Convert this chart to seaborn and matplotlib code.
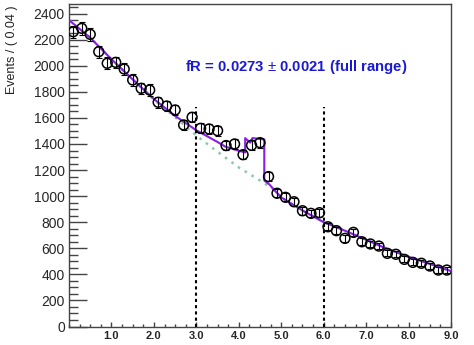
import numpy as np
import pandas as pd
import matplotlib
matplotlib.use("Agg")
import matplotlib.pyplot as plt
from matplotlib.ticker import FixedLocator, MultipleLocator, FormatStrFormatter
import seaborn as sns

# ---- data ----
bin_centers = [0.1, 0.3, 0.5, 0.7, 0.9, 1.1, 1.3, 1.5, 1.7, 1.9,
               2.1, 2.3, 2.5, 2.7, 2.9, 3.1, 3.3, 3.5, 3.7, 3.9,
               4.1, 4.3, 4.5, 4.7, 4.9, 5.1, 5.3, 5.5, 5.7, 5.9,
               6.1, 6.3, 6.5, 6.7, 6.9, 7.1, 7.3, 7.5, 7.7, 7.9,
               8.1, 8.3, 8.5, 8.7, 8.9]
events = [2261, 2287, 2241, 2108, 2019, 2026, 1975, 1891, 1827, 1814,
          1720, 1691, 1661, 1546, 1605, 1520, 1515, 1502, 1388, 1400,
          1318, 1390, 1410, 1150, 1022, 991, 957, 888, 868, 873,
          765, 735, 676, 722, 650, 633, 617, 561, 554, 515,
          492, 485, 464, 433, 433]

total_x = [0.0, 0.5, 1.0, 1.5, 2.0, 2.5, 3.0, 3.5, 3.68, 4.0, 4.15, 4.15,
           4.27, 4.32, 4.60, 4.60, 4.72, 4.82, 5.0, 5.5, 6.0, 6.5, 7.0,
           7.5, 8.0, 8.5, 9.0]
total_y = [2350, 2215, 2050, 1895, 1745, 1615, 1505, 1415, 1380, 1348, 1335, 1445,
           1410, 1445, 1435, 1120, 1090, 1052, 990, 890, 800, 735, 665,
           595, 535, 480, 425]

bkg_x = [0.0, 0.5, 1.0, 1.5, 2.0, 2.5, 3.0, 3.5, 4.0, 4.5, 4.82, 5.0, 5.5,
         6.0, 6.5, 7.0, 7.5, 8.0, 8.5, 9.0]
bkg_y = [2350, 2215, 2050, 1895, 1740, 1605, 1465, 1340, 1220, 1120, 1052, 990, 890,
         800, 735, 665, 595, 535, 480, 425]

cut_lines = [3.0, 6.0]
cut_top = 1680
x_ticks = [1.0, 2.0, 3.0, 4.0, 5.0, 6.0, 7.0, 8.0, 9.0]
y_ticks = [0, 200, 400, 600, 800, 1000, 1200, 1400, 1600, 1800, 2000, 2200, 2400]
label_text = "fR = 0.0273 $\\pm$ 0.0021 (full range)"

# ---- plot ----
sns.set_style("white")
plt.rcParams['font.family'] = ['Liberation Sans', 'DejaVu Sans']
plt.rcParams['mathtext.fontset'] = 'custom'
plt.rcParams['mathtext.rm'] = 'Liberation Sans'

fig = plt.figure(figsize=(4.74, 3.45), dpi=100)
ax = fig.add_axes([0.1456, 0.0536, 0.806, 0.9334])

df_pts = pd.DataFrame({"x": bin_centers, "y": events})
df_pts["err"] = np.sqrt(df_pts["y"])

df_bkg = pd.DataFrame({"x": bkg_x, "y": bkg_y})
df_tot = pd.DataFrame({"x": total_x, "y": total_y})

sns.lineplot(data=df_bkg, x="x", y="y", sort=False, estimator=None, ax=ax,
             color="#86c9a9", linewidth=1.8, linestyle=(0, (1, 2.2)), zorder=2)
sns.lineplot(data=df_tot, x="x", y="y", sort=False, estimator=None, ax=ax,
             color="#8a1ee6", linewidth=1.5, zorder=3)

ax.errorbar(df_pts["x"], df_pts["y"], yerr=df_pts["err"], fmt="none",
            ecolor="black", elinewidth=0.8, capsize=2.2, capthick=0.8, zorder=4)
sns.scatterplot(data=df_pts, x="x", y="y", ax=ax, marker="o", s=50,
                facecolor="none", edgecolor="black", linewidth=1.1, zorder=5)

for xc in cut_lines:
    ax.plot([xc, xc], [0, cut_top], color="black", linewidth=1.5,
            linestyle=(0, (1.5, 1.5)), zorder=6)

ax.text(2.74, 1993, label_text, color="#1a1ad6", fontsize=10.7,
        fontweight="bold", va="center", ha="left")

ax.set_xlim(0, 9.0)
ax.set_ylim(0, 2470)
ax.set_xlabel("")
ax.set_ylabel("")

ax.xaxis.set_major_locator(FixedLocator(x_ticks))
ax.xaxis.set_major_formatter(FormatStrFormatter("%.1f"))
ax.xaxis.set_minor_locator(MultipleLocator(0.25))
ax.yaxis.set_major_locator(FixedLocator(y_ticks))
ax.yaxis.set_minor_locator(MultipleLocator(50))

ax.tick_params(axis="y", which="major", direction="in", length=13, width=1.0,
               labelsize=10, pad=3, color="#444444", left=True, right=False)
ax.tick_params(axis="y", which="minor", direction="in", length=6.5, width=1.0,
               color="#444444", left=True, right=False)
ax.tick_params(axis="x", which="major", direction="in", length=3.6, width=1.0,
               labelsize=8, pad=3, color="#444444", bottom=True, top=False)
ax.tick_params(axis="x", which="minor", direction="in", length=2.2, width=1.0,
               color="#444444", bottom=True, top=False)
for lab in ax.get_xticklabels():
    lab.set_fontweight("bold")

for sp in ax.spines.values():
    sp.set_color("#444444")
    sp.set_linewidth(1.0)
    sp.set_visible(True)

fig.text(0.026, 0.985, "Events / ( 0.04 )", rotation=90, fontsize=9,
         ha="center", va="top", color="#222222")

fig.savefig("out.png", dpi=100)
